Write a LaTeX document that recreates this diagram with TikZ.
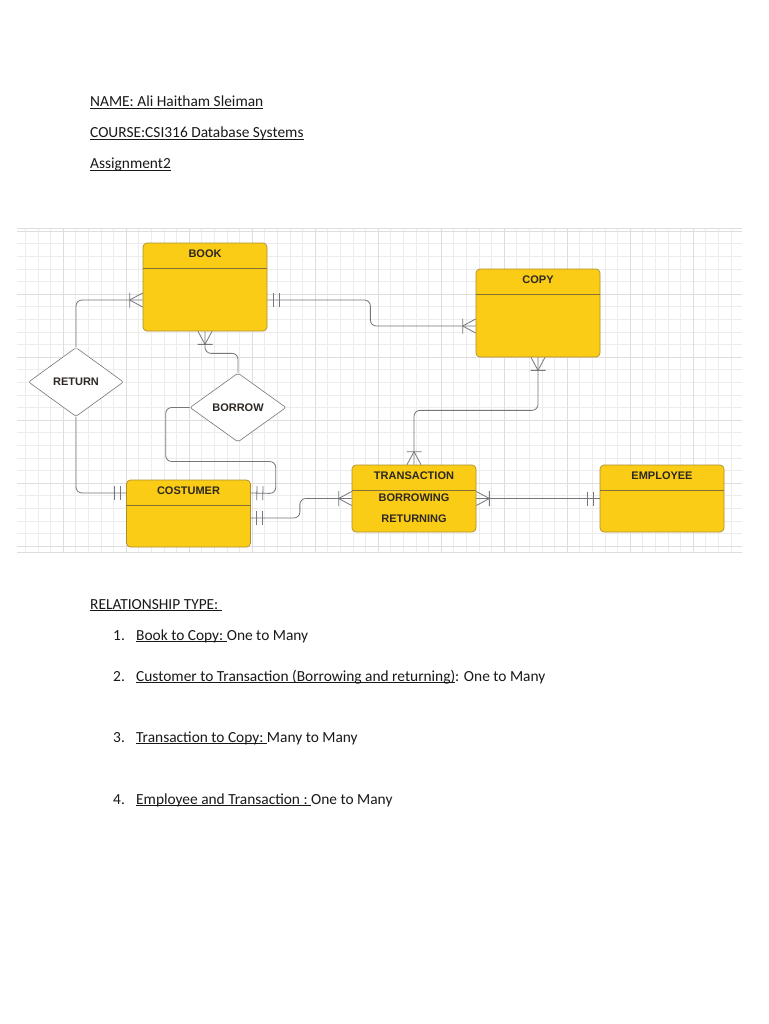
\documentclass[tikz,border=0pt]{standalone}
\usepackage{fontspec}
\setmainfont{Carlito}
\setsansfont{Liberation Sans}
\usetikzlibrary{shapes.geometric,positioning}

% colours
\definecolor{entityfill}{RGB}{250,204,21}
\definecolor{entityborder}{RGB}{172,142,48}
\definecolor{headerline}{RGB}{135,112,52}
\definecolor{labeltext}{RGB}{45,40,35}
\definecolor{linegray}{RGB}{118,118,125}
\definecolor{gridminor}{RGB}{236,236,236}
\definecolor{gridmajor}{RGB}{222,222,222}

% crow's foot: one or many
\pgfdeclarearrow{
	name = ermany,
	setup code = {
		\pgfarrowssettipend{0pt}
		\pgfarrowssetlineend{0pt}
		\pgfarrowssetbackend{-14pt}
		\pgfarrowshullpoint{0pt}{8pt}
		\pgfarrowshullpoint{0pt}{-8pt}
		\pgfarrowshullpoint{-14pt}{8pt}
		\pgfarrowshullpoint{-14pt}{-8pt}
	},
	drawing code = {
		\pgfpathmoveto{\pgfpoint{0pt}{7pt}}
		\pgfpathlineto{\pgfpoint{-13pt}{0pt}}
		\pgfpathlineto{\pgfpoint{0pt}{-7pt}}
		\pgfpathmoveto{\pgfpoint{-13pt}{7.5pt}}
		\pgfpathlineto{\pgfpoint{-13pt}{-7.5pt}}
		\pgfusepathqstroke
	}
}
% double bar: one and only one
\pgfdeclarearrow{
	name = erone,
	setup code = {
		\pgfarrowssettipend{0pt}
		\pgfarrowssetlineend{0pt}
		\pgfarrowssetbackend{-13pt}
		\pgfarrowshullpoint{0pt}{7pt}
		\pgfarrowshullpoint{0pt}{-7pt}
		\pgfarrowshullpoint{-13pt}{7pt}
		\pgfarrowshullpoint{-13pt}{-7pt}
	},
	drawing code = {
		\pgfpathmoveto{\pgfpoint{-6pt}{7pt}}
		\pgfpathlineto{\pgfpoint{-6pt}{-7pt}}
		\pgfpathmoveto{\pgfpoint{-12pt}{7pt}}
		\pgfpathlineto{\pgfpoint{-12pt}{-7pt}}
		\pgfusepathqstroke
	}
}

% underlined text close to the baseline
\newcommand{\undertext}[1]{\setbox0\hbox{#1}\rlap{\rule[-2.3pt]{\wd0}{0.9pt}}\box0}

\tikzset{
	entity/.style={draw=entityborder, fill=entityfill, rounded corners=4pt, minimum width=124pt, inner sep=0pt, line width=0.7pt},
	relation/.style={diamond, draw=linegray, fill=white, rounded corners=2pt, minimum width=95pt, minimum height=69pt, inner sep=0pt, line width=0.6pt, font=\sffamily\bfseries\fontsize{11}{12}\selectfont, text=labeltext},
	heading/.style={inner sep=0pt, font=\sffamily\bfseries\fontsize{11}{12}\selectfont, text=labeltext},
	connector/.style={draw=linegray, line width=0.8pt, rounded corners=6pt},
	docline/.style={anchor=base west, inner sep=0pt, text=black!90, font=\fontsize{15.4}{18}\selectfont}
}

\begin{document}
\begin{tikzpicture}[x=1pt, y=-1pt]
	\useasboundingbox (0,0) rectangle (768,1024);
	\fill[white] (0,0) rectangle (768,1024);
	% header lines
	\node[docline] (name) at (90,107) {\undertext{NAME: Ali Haitham Sleiman}};
	\node[docline] (course) at (90,138) {\undertext{COURSE:CSI316 Database Systems}};
	\node[docline] (assignment) at (90,169) {\undertext{Assignment2}};
	% grid background
	\begin{scope}
		\clip (17,229) rectangle (742,552);
		\foreach \k in {2,...,58}
		{
			\draw[gridminor, line width=0.5pt] (12.6*\k,229) -- (12.6*\k,552);
		}
		\foreach \k in {-5,...,20}
		{
			\draw[gridminor, line width=0.5pt] (17,294+12.6*\k) -- (742,294+12.6*\k);
		}
		\foreach \k in {1,...,11}
		{
			\draw[gridmajor, line width=0.6pt] (63*\k,229) -- (63*\k,552);
		}
		\foreach \k in {-1,...,4}
		{
			\draw[gridmajor, line width=0.6pt] (17,294+63*\k) -- (742,294+63*\k);
		}
	\end{scope}
	\draw[gridmajor, line width=1pt] (17,229) -- (742,229);
	\draw[gridmajor, line width=1pt] (17,552) -- (742,552);
	% entities
	\foreach \id/\title/\x/\y/\h in {book/BOOK/205/287/88, copy/COPY/538/313/88, costumer/COSTUMER/188.5/513.5/67, transaction/TRANSACTION/414/498.5/67, employee/EMPLOYEE/662/498.5/67}
	{
		\node[entity, minimum height=\h pt] (\id) at (\x,\y) {};
		\draw[headerline, line width=0.7pt] ([yshift=-25.5pt]\id.north west) -- ([yshift=-25.5pt]\id.north east);
		\node[heading] (\id title) at ([yshift=-11pt]\id.north) {\title};
	}
	\node[heading] (borrowing) at (414,498) {BORROWING};
	\node[heading, below=13pt of borrowing] (returning) {RETURNING};
	% relationships
	\node[relation] (return) at (76,382) {RETURN};
	\node[relation, minimum width=96pt] (borrow) at (238,407.5) {BORROW};
	% connectors
	\draw[connector, ermany-] ([yshift=-13pt]book.west) -| (return.north);
	\draw[connector, -erone] (return.south) |- ([yshift=20.5pt]costumer.west);
	\draw[connector, ermany-] (book.south) -- ++(0,22) -| (borrow.north);
	\draw[connector, -erone] (borrow.west) -| ++(-24,54) -| ++(110,32) -- ([yshift=20.5pt]costumer.east);
	\draw[connector, erone-ermany] ([yshift=-4.5pt]costumer.east) -- ++(49,0) |- (transaction.west);
	\draw[connector, erone-ermany] ([yshift=-13pt]book.east) -- ++(103,0) |- ([yshift=-13pt]copy.west);
	\draw[connector, ermany-ermany] (copy.south) -- ++(0,53) -| (transaction.north);
	\draw[connector, ermany-erone] (transaction.east) -- (employee.west);
	% relationship types
	\node[docline] (reltype) at (90,609) {\undertext{RELATIONSHIP TYPE:\ }};
	\foreach \under/\rest/\y [count=\index] in {{Book to Copy:\ }/{One to Many}/640, {Customer to Transaction (Borrowing and returning)}/{: One to Many}/681, {Transaction to Copy:\ }/{Many to Many}/742, {Employee and Transaction :\ }/{One to Many}/804}
	{
		\node[docline] (number\index) at (113,\y) {\index.};
		\node[docline] (item\index) at (136,\y) {\undertext{\under}\rest};
	}
\end{tikzpicture}
\end{document}
